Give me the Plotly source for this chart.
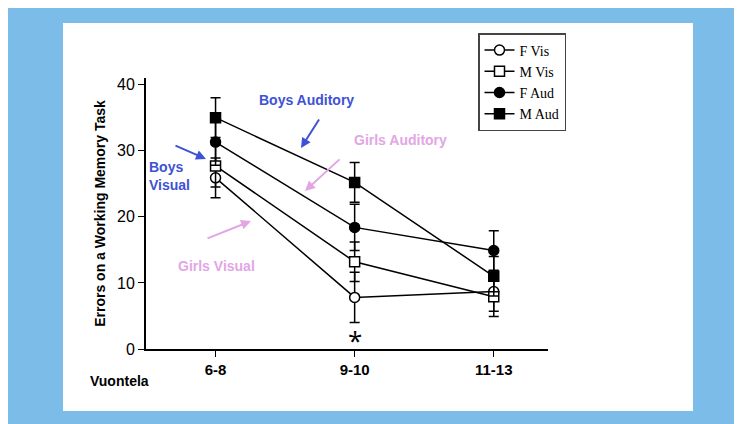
import plotly.graph_objects as go

ages = ["6-8", "9-10", "11-13"]
f_vis = [25.9, 7.8, 8.7]
m_vis = [27.7, 13.2, 7.9]
f_aud = [31.3, 18.4, 14.9]
m_aud = [35.0, 25.2, 11.0]
f_vis_err = [3.0, 3.8, 3.0]
m_vis_err = [3.2, 3.0, 3.0]
f_aud_err = [3.5, 3.5, 3.0]
m_aud_err = [3.0, 3.0, 3.0]

L, R, T, B = 138, 540, 70, 341
YMAX = 41.0

def px(x):  # pixel x -> data x
    return -0.5 + (x - L) / (R - L) * 2.89

def py(y):  # pixel y -> data y
    return (B - y) / (B - T) * YMAX

fig = go.Figure()
series = [
    ("F Vis", f_vis, f_vis_err, "circle-open"),
    ("M Vis", m_vis, m_vis_err, "square-open"),
    ("F Aud", f_aud, f_aud_err, "circle"),
    ("M Aud", m_aud, m_aud_err, "square"),
]
for name, vals, err, sym in series:
    if "open" in sym:
        mk = dict(symbol=sym.replace("-open", ""), size=10, color="white",
                  line=dict(color="black", width=1.5))
    else:
        mk = dict(symbol=sym, size=10, color="black", line=dict(color="black", width=1.5))
    fig.add_trace(go.Scatter(
        x=list(range(len(ages))), y=vals, name=name, mode="lines+markers",
        line=dict(color="black", width=1.5), marker=mk,
        error_y=dict(type="data", array=err, color="black", thickness=1.5, width=5),
    ))

blue = "#3d52d5"
pink = "#e2a6e4"
bold = dict(family="Liberation Sans", size=14)
anns = [
    dict(x=px(298), y=py(92), text="<b>Boys Auditory</b>", showarrow=False, font=dict(color=blue, **bold)),
    dict(x=px(293), y=py(140), ax=px(312), ay=py(110), axref="x", ayref="y", text="", showarrow=True,
         arrowcolor=blue, arrowwidth=2, arrowhead=2),
    dict(x=px(392), y=py(132), text="<b>Girls Auditory</b>", showarrow=False, font=dict(color=pink, **bold)),
    dict(x=px(297), y=py(183), ax=px(333), ay=py(150), axref="x", ayref="y", text="", showarrow=True,
         arrowcolor=pink, arrowwidth=2, arrowhead=2),
    dict(x=px(161), y=py(168), text="<b>Boys<br>Visual</b>", showarrow=False, align="left",
         font=dict(color=blue, **bold)),
    dict(x=px(198), y=py(151), ax=px(166), ay=py(137), axref="x", ayref="y", text="", showarrow=True,
         arrowcolor=blue, arrowwidth=2, arrowhead=2),
    dict(x=px(208), y=py(258), text="<b>Girls Visual</b>", showarrow=False, font=dict(color=pink, **bold)),
    dict(x=px(243), y=py(213), ax=px(198), ay=py(231), axref="x", ayref="y", text="", showarrow=True,
         arrowcolor=pink, arrowwidth=2, arrowhead=2),
    dict(x=1, y=py(332), text="*", showarrow=False, font=dict(size=26, color="black")),
    dict(x=(80 - L) / (R - L), y=-(383 - B) / (B - T), xref="paper", yref="paper", text="<b>Vuontela</b>",
         showarrow=False, xanchor="left", font=dict(size=14, color="black", family="Liberation Sans")),
]
fig.update_layout(
    width=742, height=424,
    paper_bgcolor="#7bbde8", plot_bgcolor="white",
    margin=dict(l=L, r=742 - R, t=T, b=424 - B),
    annotations=anns,
    shapes=[dict(type="rect", xref="paper", yref="paper", layer="below",
                 x0=(55 - L) / (R - L), x1=(685 - L) / (R - L),
                 y0=-(403 - B) / (B - T), y1=(B - 15) / (B - T),
                 fillcolor="white", line=dict(width=0))],
    legend=dict(x=(470 - L) / (R - L), y=(B - 25) / (B - T), xanchor="left", yanchor="top",
                bgcolor="white", bordercolor="#444", borderwidth=1.5,
                font=dict(family="Liberation Serif", size=14, color="black"),
                itemwidth=30, tracegroupgap=0),
    showlegend=True,
)
fig.update_xaxes(range=[-0.5, 2.39], tickvals=list(range(len(ages))), ticktext=["<b>%s</b>" % a for a in ages],
                 showgrid=False, zeroline=False, showline=True, linecolor="black", linewidth=2,
                 ticks="outside", ticklen=6, tickcolor="black",
                 tickfont=dict(family="Liberation Sans", size=15, color="black"))
fig.update_yaxes(range=[0, YMAX], tickvals=[0, 10, 20, 30, 40], showgrid=False, zeroline=False,
                 showline=True, linecolor="black", linewidth=2, ticks="outside", ticklen=6,
                 tickcolor="black", tickfont=dict(family="Liberation Sans", size=16, color="black"),
                 title=dict(text="<b>Errors on a Working Memory Task</b>", standoff=8,
                            font=dict(family="Liberation Sans", size=14, color="black")))
fig.write_html("out.html")
